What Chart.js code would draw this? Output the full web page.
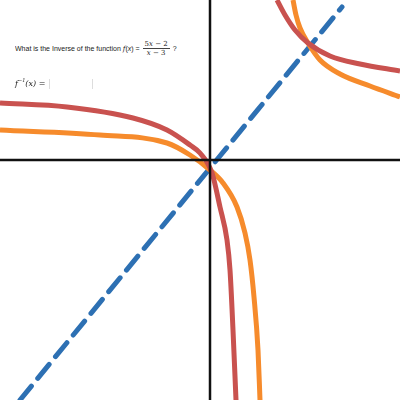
<!DOCTYPE html>
<html><head>
<script src="https://cdn.jsdelivr.net/npm/chart.js@4"></script>
<style>
body{margin:0;background:#fff}
#wrap{position:relative;width:400px;height:400px}
#q{position:absolute;left:15px;top:40px;font:7px "Liberation Sans",sans-serif;color:#222;display:flex;align-items:center;background:#fff}
.fr{display:inline-flex;flex-direction:column;align-items:center;margin:0 3px;font-family:"DejaVu Serif",serif}
.fr span:first-child{border-bottom:1px solid #444;padding:0 2px}
#a{position:absolute;left:15px;top:77px;font:italic 8px "DejaVu Serif",serif;color:#222;background:#fff;padding-right:4px}
#box{display:inline-block;width:42px;height:10px;border-left:1px solid #ddd;border-right:1px solid #ddd;vertical-align:middle;margin-left:4px}
</style></head><body>
<div id="wrap"><canvas id="c" width="400" height="400"></canvas>
<div id="q">What is the Inverse of the function&nbsp;<i style="font-family:'DejaVu Serif',serif">f</i>(<i>x</i>)&nbsp;=<span class="fr"><span>5<i>x</i> − 2</span><span><i>x</i> − 3</span></span>?</div>
<div id="a">f<sup style="font-size:5px">−1</sup>(x) =<span id="box"></span></div>
</div>
<script>
// points, in pixel-like units relative to the axes
const redLeft = [[-210,57],[-143,53],[-77,42],[-43,30],[-20,15],[-10,7],[2,-13],[10,-47],[17,-80],[20,-110],[23,-170],[26,-240]];
const redRight = [[67,160],[75,145],[85,130],[98,117],[120,104],[150,96],[190,89]];
const orangeLeft = [[-210,30],[-110,25],[-43,17],[-20,5],[0,-10],[13,-23],[27,-47],[35,-73],[40,-100],[44,-137],[48,-190],[50,-240]];
const orangeRight = [[83,160],[86,145],[90,132],[98,117],[110,100],[130,86],[160,74],[190,63]];
const diagonal = [[-190,-240],[132,153]];
const xAxis = [[-210,0],[190,0]];
const yAxis = [[0,-240],[0,160]];

const pts = a => a.map(p => ({x: p[0], y: p[1]}));
const RED = "#c9524f", ORANGE = "#f68b2c", BLUE = "#2d70b3";
const line = (d, c, extra) => Object.assign({data: pts(d), borderColor: c, borderWidth: 5, pointRadius: 0, showLine: true, fill: false, cubicInterpolationMode: "monotone"}, extra || {});

new Chart(document.getElementById("c"), {
  type: "scatter",
  data: {
    datasets: [
      line(xAxis, "#111", {borderWidth: 2.5}),
      line(yAxis, "#111", {borderWidth: 2.5}),
      line(redLeft, RED),
      line(redRight, RED),
      line(orangeLeft, ORANGE),
      line(orangeRight, ORANGE),
      line(diagonal, BLUE, {borderDash: [18, 10], borderCapStyle: "round"}),
    ],
  },
  options: {
    responsive: false,
    animation: false,
    layout: {padding: 0},
    plugins: {legend: {display: false}, tooltip: {enabled: false}},
    scales: {
      x: {type: "linear", min: -210, max: 190, display: false},
      y: {type: "linear", min: -240, max: 160, display: false},
    },
  },
});
</script>
</body></html>
